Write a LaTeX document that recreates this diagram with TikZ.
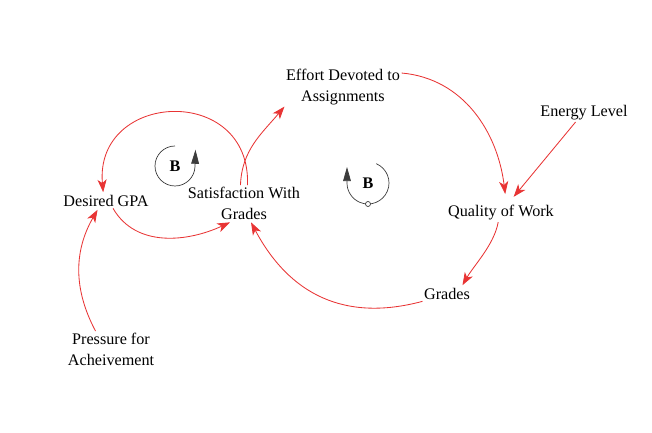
\documentclass[tikz,border=0pt]{standalone}
\usepackage{fontspec}
\setmainfont{Liberation Serif}
\usepackage{xcolor}
\usepackage{tikz}
\usetikzlibrary{positioning,calc,arrows.meta}

\definecolor{linkred}{RGB}{232,52,52}
\definecolor{loopgray}{RGB}{60,60,60}

\begin{document}
\begin{tikzpicture}[x=0.025cm, y=0.025cm,
    var/.style={align=center, inner sep=1pt, font=\fontsize{11.5}{14.9}\selectfont},
    link/.style={linkred, line width=0.6pt, -{Stealth[length=9pt, width=6.5pt, inset=2.5pt]}},
    loopline/.style={loopgray, line width=0.5pt, -{Triangle[length=10pt, width=5.5pt]}},
    looplabel/.style={font=\fontsize{11.5}{14}\selectfont\bfseries}]
    \useasboundingbox (0,0) rectangle (652,433);

    % Variables
    \node [var] (gpa) at (106,232) {Desired GPA};
    \node [var] (sat) at (244,230) {Satisfaction With\\Grades};
    \node [var] (effort) at (343,346) {Effort Devoted to\\Assignments};
    \node [var] (energy) at (584,320) {Energy Level};
    \node [var] (quality) at (501,220) {Quality of Work};
    \node [var] (grades) at (447,139) {Grades};
    \node [var] (pressure) at (111,84) {Pressure for\\Acheivement};

    % Loop markers
    \node [looplabel] (loopA) at (175,267) {B};
    \draw [loopline] ($(loopA)+(90:20)$) arc [start angle=90, end angle=358, radius=20] -- ++(0.5,17);
    \node [looplabel] (loopB) at (368,250) {B};
    \draw [loopline] ($(loopB)+(67:21)$) arc [start angle=67, end angle=-180, radius=21] -- ++(0,16);
    \draw [loopgray, line width=0.5pt, fill=white] ($(loopB)+(270:21)$) circle (2.5); % small ring

    % Links
    \draw [link] ([xshift=2.5pt]sat.north) to [out=88, in=95, looseness=1.8] ([xshift=-2pt, yshift=1pt]gpa.north);
    \draw [link] ([xshift=5pt]gpa.south) to [out=-60, in=205, looseness=1] ([xshift=-10pt, yshift=-1pt]sat.south);
    \draw [link] ([xshift=-2.5pt]sat.north) to [out=88, in=230, looseness=1] (effort.south west);
    \draw [link] ([yshift=-4pt]effort.north east) to [out=-5, in=97, looseness=1] ([xshift=3pt, yshift=7pt]quality.north);
    \draw [link] ([xshift=-6pt]energy.south) -- ([xshift=9pt, yshift=5pt]quality.north);
    \draw [link] ([xshift=-2pt]quality.south) to [out=-100, in=60, looseness=0.8] ([xshift=11pt, yshift=1pt]grades.north);
    \draw [link] (grades.south west) to [out=195, in=-62, looseness=1.1] ([xshift=5pt, yshift=-1pt]sat.south);
    \draw [link] ([xshift=-11pt]pressure.north) to [out=118, in=-120, looseness=1] ([xshift=-6pt, yshift=-1pt]gpa.south);
\end{tikzpicture}
\end{document}
